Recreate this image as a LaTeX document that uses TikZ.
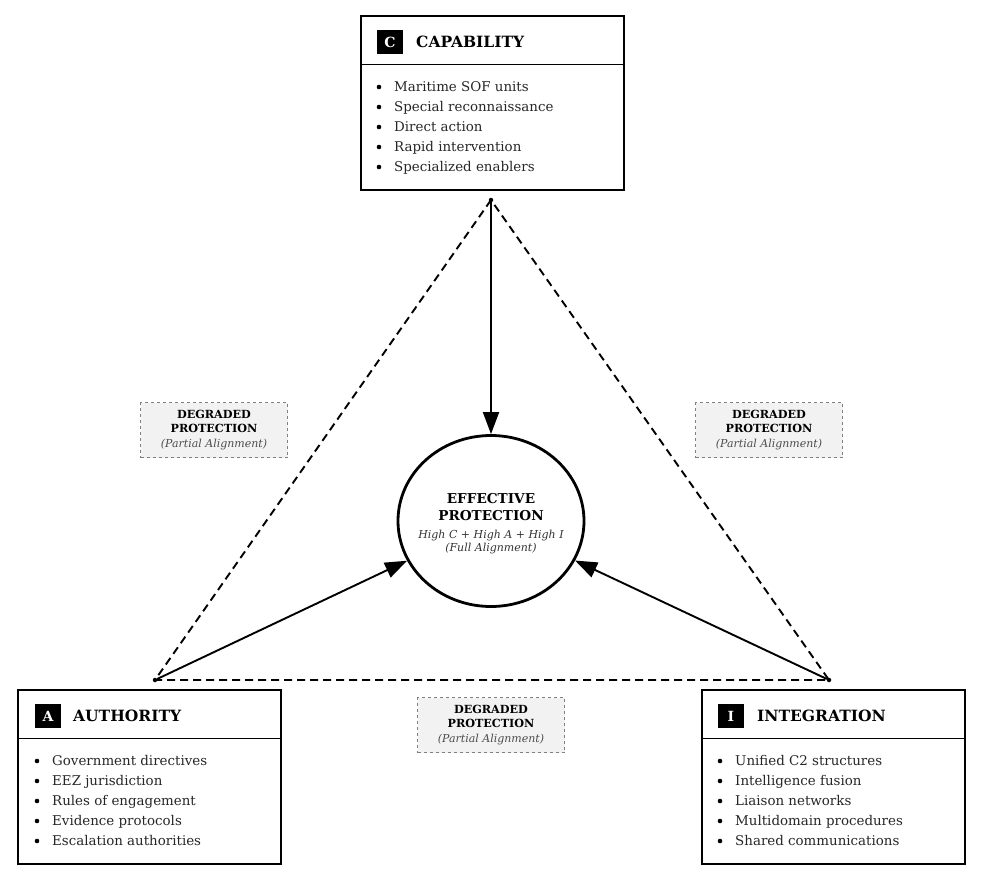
\documentclass[tikz,border=0pt]{standalone}
\usepackage{fontspec}
\setmainfont{DejaVu Serif}
\usetikzlibrary{positioning,calc,arrows.meta,shapes.geometric}
\tikzset{pillar/.style={draw,line width=2pt,minimum width=263pt,minimum height=174pt,inner sep=0pt}}
\tikzset{badge/.style={fill=black,text=white,font=\bfseries\fontsize{14}{14}\selectfont,minimum width=26pt,minimum height=24pt,inner sep=0pt}}
\tikzset{ptitle/.style={anchor=west,font=\bfseries\fontsize{15.5}{15.5}\selectfont,inner sep=0pt}}
\tikzset{item/.style={anchor=west,font=\fontsize{13.4}{13.4}\selectfont,text=black!85,inner sep=0pt,text height=10pt,text depth=3pt}}
\tikzset{vdot/.style={circle,fill=black,minimum size=4.5pt,inner sep=0pt}}
\tikzset{degraded/.style={draw=gray,dashed,line width=0.6pt,fill=gray!10,minimum width=147pt,minimum height=55pt,align=center,inner sep=0pt,font=\fontsize{11.2}{14.5}\selectfont}}
\tikzset{tri/.style={line width=1.9pt,dash pattern=on 8pt off 5pt}}
\tikzset{>={Triangle[length=22pt,width=16pt]}}
\newcommand{\partalign}{{\itshape\color{black!70}\fontsize{11}{14.5}\selectfont(Partial Alignment)}}
\begin{document}
\begin{tikzpicture}[x=1pt,y=-1pt]
	\useasboundingbox (0,0) rectangle (982,880);
	% corners of the triangle
	\node[vdot] (vc) at (491,200) {};
	\node[vdot] (va) at (155,680) {};
	\node[vdot] (vi) at (829,680) {};

	\draw[tri] (vc.center) -- (va.center) -- (vi.center) -- cycle;

	% centre
	\node[ellipse,draw,line width=2.8pt,minimum width=186pt,minimum height=171pt] (eff) at (491,521) {};
	\node[align=center,font=\bfseries\fontsize{13.6}{17}\selectfont] (eff-t) at (491,507) {EFFECTIVE\\PROTECTION};
	\node[align=center,font=\itshape\fontsize{11}{12.5}\selectfont,text=black!80] (eff-s) at (491,542) {High C + High A + High I\\(Full Alignment)};

	\draw[->,line width=1.9pt] (vc) -- (eff);
	\draw[->,line width=1.9pt] (va) -- (eff);
	\draw[->,line width=1.9pt] (vi) -- (eff);

	\node[degraded] (dg-ca) at (214,430) {\textbf{DEGRADED}\\\textbf{PROTECTION}\\\partalign};
	\node[degraded] (dg-ci) at (769,430) {\textbf{DEGRADED}\\\textbf{PROTECTION}\\\partalign};
	\node[degraded] (dg-ai) at (491,725) {\textbf{DEGRADED}\\\textbf{PROTECTION}\\\partalign};

	% capability
	\node[pillar] (cap) at (492.5,103) {};
	\draw[line width=0.8pt] ([yshift=-49pt]cap.north west) -- ([yshift=-49pt]cap.north east);
	\node[badge] (cap-b) at (390,42) {C};
	\node[ptitle] (cap-t) at (416,42) {CAPABILITY};
	\foreach \t [count=\i] in {Maritime SOF units,Special reconnaissance,Direct action,Rapid intervention,Specialized enablers}{
		\fill (379,67+20*\i) circle (2.3pt);
		\node[item] (cap-\i) at (394,68+20*\i) {\t};
	}

	% authority
	\node[pillar] (aut) at (149.5,777) {};
	\draw[line width=0.8pt] ([yshift=-49pt]aut.north west) -- ([yshift=-49pt]aut.north east);
	\node[badge] (aut-b) at (48,716) {A};
	\node[ptitle] (aut-t) at (73,716) {AUTHORITY};
	\foreach \t [count=\i] in {Government directives,EEZ jurisdiction,Rules of engagement,Evidence protocols,Escalation authorities}{
		\fill (37,741+20*\i) circle (2.3pt);
		\node[item] (aut-\i) at (52,742+20*\i) {\t};
	}

	% integration
	\node[pillar] (int) at (833.5,777) {};
	\draw[line width=0.8pt] ([yshift=-49pt]int.north west) -- ([yshift=-49pt]int.north east);
	\node[badge] (int-b) at (731,716) {I};
	\node[ptitle] (int-t) at (757,716) {INTEGRATION};
	\foreach \t [count=\i] in {Unified C2 structures,Intelligence fusion,Liaison networks,Multidomain procedures,Shared communications}{
		\fill (720,741+20*\i) circle (2.3pt);
		\node[item] (int-\i) at (735,742+20*\i) {\t};
	}
\end{tikzpicture}
\end{document}
